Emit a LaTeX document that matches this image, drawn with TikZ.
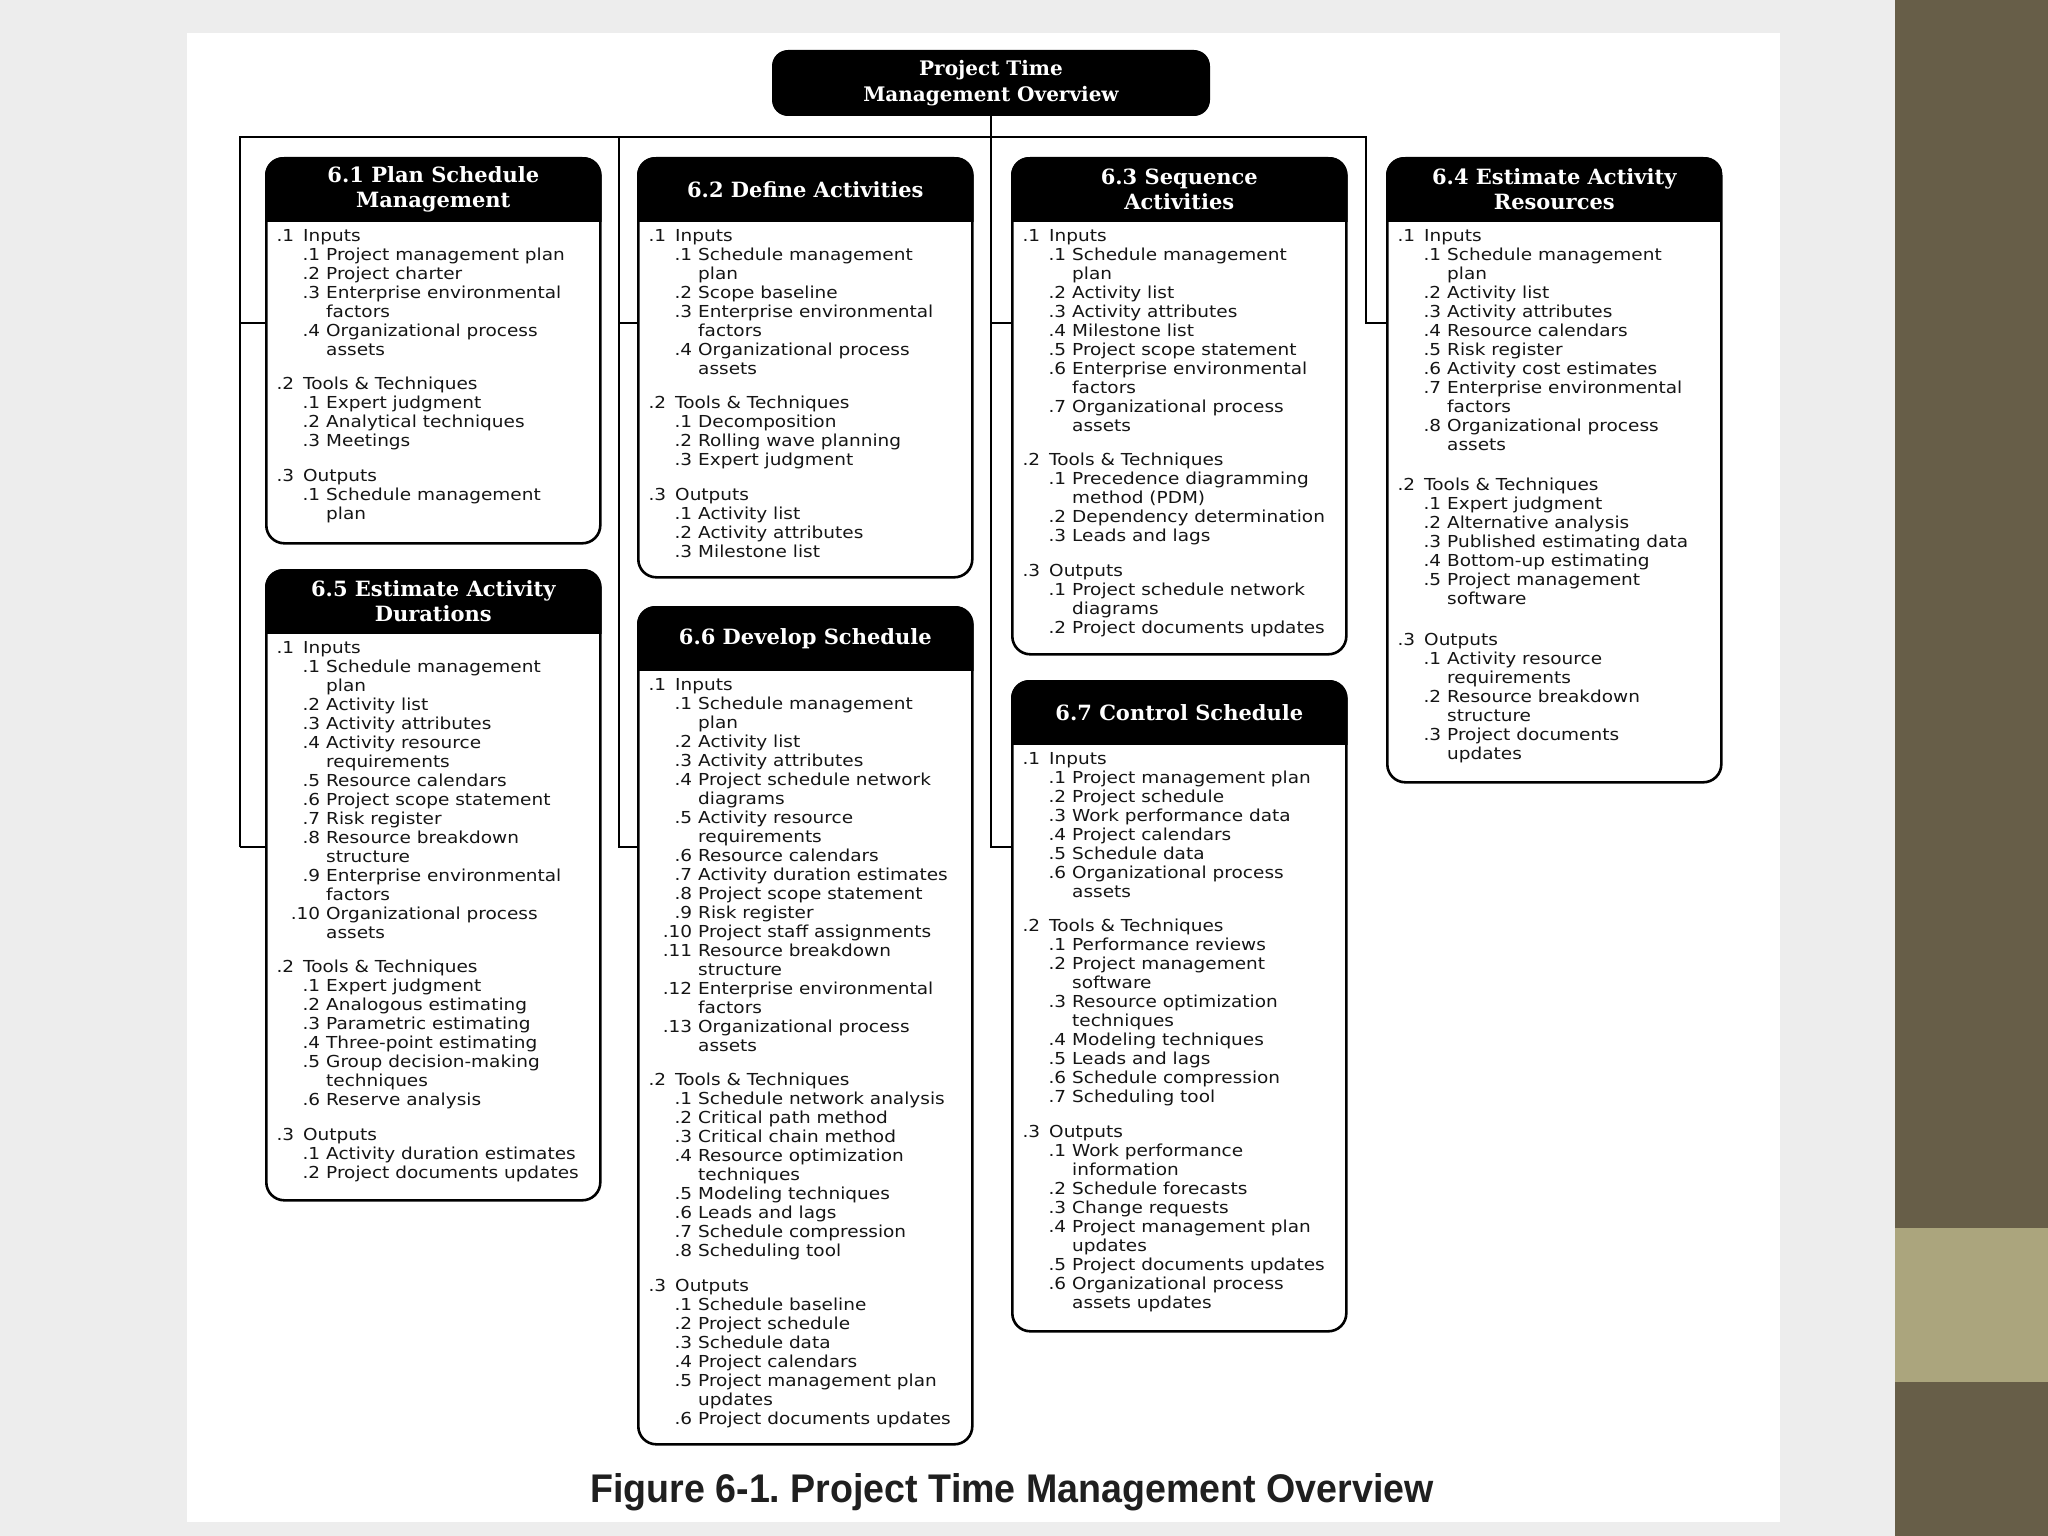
\documentclass[tikz,border=0pt]{standalone}
\usepackage{fontspec}
\usetikzlibrary{calc}
\newfontfamily\bodyfam[FakeStretch=1.12]{DejaVu Sans}
\newfontfamily\slabfam{DejaVu Serif}
\newfontfamily\capfam[FakeStretch=0.94]{Liberation Sans}
\definecolor{pagebg}{HTML}{EDEDED}
\definecolor{bardark}{HTML}{675E48}
\definecolor{barlight}{HTML}{ABA57D}
\definecolor{txt}{HTML}{151515}
\newcommand\ia[2]{\makebox[25pt][r]{#1}\makebox[9pt]{}#2}
\newcommand\ib[2]{\makebox[51pt][r]{#1}\makebox[6pt]{}#2}
\newcommand\ic[1]{\makebox[57pt]{}#1}
\def\grp{15.6pt}
\newcommand\proc[6]{%
  \node[pbox, minimum height=#4pt] (#1) at (#2,#3) {};
  \begin{scope}
    \clip[rounded corners=18pt] (#1.north west) rectangle (#1.south east);
    \fill (#1.north west) rectangle ($(#1.north east)+(0,65)$);
  \end{scope}
  \node[ttl] (#1t) at ($(#1.north)+(0,32.5)$) {#5};
  \node[bodytxt] (#1b) at ($(#1.north west)+(4,72)$) {#6};
}
\begin{document}
\begin{tikzpicture}[x=1pt,y=-1pt,
  pbox/.style={draw, line width=2.6pt, rounded corners=18pt, fill=white,
    minimum width=334pt, inner sep=0pt, anchor=north west},
  conn/.style={line width=2pt, line join=miter},
  ttl/.style={text=white, font={\slabfam\bfseries\fontsize{21}{25}\selectfont},
    align=center, inner sep=0pt},
  bodytxt/.style={font={\bodyfam\fontsize{16.5}{19}\selectfont}, text=txt,
    align=left, anchor=north west, inner sep=0pt},
  topbox/.style={fill=black, draw, line width=2pt, rounded corners=15pt,
    minimum width=436pt, minimum height=64pt, inner sep=0pt, text=white,
    align=center, font={\slabfam\bfseries\fontsize{20}{26}\selectfont}},
  captxt/.style={font={\capfam\bfseries\fontsize{40}{44}\selectfont}, text=black!88, inner sep=0pt}
]
\useasboundingbox (0,0) rectangle (2048,1536);
\fill[pagebg] (0,0) rectangle (2048,1536);
\fill[white] (187,33) rectangle (1780,1522);
\fill[bardark] (1895,0) rectangle (2048,1536);
\fill[barlight] (1895,1228) rectangle (2048,1382);

% top node
\node[topbox] (top) at (991,83) {Project Time\\Management Overview};

% processes
\proc{p1}{265}{157}{385}{6.1 Plan Schedule\\Management}{%
\ia{.1}{Inputs}\\
\ib{.1}{Project management plan}\\
\ib{.2}{Project charter}\\
\ib{.3}{Enterprise environmental}\\
\ic{factors}\\
\ib{.4}{Organizational process}\\
\ic{assets}\\[\grp]
\ia{.2}{Tools \& Techniques}\\
\ib{.1}{Expert judgment}\\
\ib{.2}{Analytical techniques}\\
\ib{.3}{Meetings}\\[\grp]
\ia{.3}{Outputs}\\
\ib{.1}{Schedule management}\\
\ic{plan}}

\proc{p2}{637}{157}{419}{6.2 Define Activities}{%
\ia{.1}{Inputs}\\
\ib{.1}{Schedule management}\\
\ic{plan}\\
\ib{.2}{Scope baseline}\\
\ib{.3}{Enterprise environmental}\\
\ic{factors}\\
\ib{.4}{Organizational process}\\
\ic{assets}\\[\grp]
\ia{.2}{Tools \& Techniques}\\
\ib{.1}{Decomposition}\\
\ib{.2}{Rolling wave planning}\\
\ib{.3}{Expert judgment}\\[\grp]
\ia{.3}{Outputs}\\
\ib{.1}{Activity list}\\
\ib{.2}{Activity attributes}\\
\ib{.3}{Milestone list}}

\proc{p3}{1011}{157}{496}{6.3 Sequence\\Activities}{%
\ia{.1}{Inputs}\\
\ib{.1}{Schedule management}\\
\ic{plan}\\
\ib{.2}{Activity list}\\
\ib{.3}{Activity attributes}\\
\ib{.4}{Milestone list}\\
\ib{.5}{Project scope statement}\\
\ib{.6}{Enterprise environmental}\\
\ic{factors}\\
\ib{.7}{Organizational process}\\
\ic{assets}\\[\grp]
\ia{.2}{Tools \& Techniques}\\
\ib{.1}{Precedence diagramming}\\
\ic{method (PDM)}\\
\ib{.2}{Dependency determination}\\
\ib{.3}{Leads and lags}\\[\grp]
\ia{.3}{Outputs}\\
\ib{.1}{Project schedule network}\\
\ic{diagrams}\\
\ib{.2}{Project documents updates}}

\def\grp{21.5pt}
\proc{p4}{1386}{157}{624}{6.4 Estimate Activity\\Resources}{%
\ia{.1}{Inputs}\\
\ib{.1}{Schedule management}\\
\ic{plan}\\
\ib{.2}{Activity list}\\
\ib{.3}{Activity attributes}\\
\ib{.4}{Resource calendars}\\
\ib{.5}{Risk register}\\
\ib{.6}{Activity cost estimates}\\
\ib{.7}{Enterprise environmental}\\
\ic{factors}\\
\ib{.8}{Organizational process}\\
\ic{assets}\\[\grp]
\ia{.2}{Tools \& Techniques}\\
\ib{.1}{Expert judgment}\\
\ib{.2}{Alternative analysis}\\
\ib{.3}{Published estimating data}\\
\ib{.4}{Bottom-up estimating}\\
\ib{.5}{Project management}\\
\ic{software}\\[\grp]
\ia{.3}{Outputs}\\
\ib{.1}{Activity resource}\\
\ic{requirements}\\
\ib{.2}{Resource breakdown}\\
\ic{structure}\\
\ib{.3}{Project documents}\\
\ic{updates}}
\def\grp{15.6pt}

\proc{p5}{265}{569}{630}{6.5 Estimate Activity\\Durations}{%
\ia{.1}{Inputs}\\
\ib{.1}{Schedule management}\\
\ic{plan}\\
\ib{.2}{Activity list}\\
\ib{.3}{Activity attributes}\\
\ib{.4}{Activity resource}\\
\ic{requirements}\\
\ib{.5}{Resource calendars}\\
\ib{.6}{Project scope statement}\\
\ib{.7}{Risk register}\\
\ib{.8}{Resource breakdown}\\
\ic{structure}\\
\ib{.9}{Enterprise environmental}\\
\ic{factors}\\
\ib{.10}{Organizational process}\\
\ic{assets}\\[\grp]
\ia{.2}{Tools \& Techniques}\\
\ib{.1}{Expert judgment}\\
\ib{.2}{Analogous estimating}\\
\ib{.3}{Parametric estimating}\\
\ib{.4}{Three-point estimating}\\
\ib{.5}{Group decision-making}\\
\ic{techniques}\\
\ib{.6}{Reserve analysis}\\[\grp]
\ia{.3}{Outputs}\\
\ib{.1}{Activity duration estimates}\\
\ib{.2}{Project documents updates}}

\proc{p6}{637}{606}{837}{6.6 Develop Schedule}{%
\ia{.1}{Inputs}\\
\ib{.1}{Schedule management}\\
\ic{plan}\\
\ib{.2}{Activity list}\\
\ib{.3}{Activity attributes}\\
\ib{.4}{Project schedule network}\\
\ic{diagrams}\\
\ib{.5}{Activity resource}\\
\ic{requirements}\\
\ib{.6}{Resource calendars}\\
\ib{.7}{Activity duration estimates}\\
\ib{.8}{Project scope statement}\\
\ib{.9}{Risk register}\\
\ib{.10}{Project staff assignments}\\
\ib{.11}{Resource breakdown}\\
\ic{structure}\\
\ib{.12}{Enterprise environmental}\\
\ic{factors}\\
\ib{.13}{Organizational process}\\
\ic{assets}\\[\grp]
\ia{.2}{Tools \& Techniques}\\
\ib{.1}{Schedule network analysis}\\
\ib{.2}{Critical path method}\\
\ib{.3}{Critical chain method}\\
\ib{.4}{Resource optimization}\\
\ic{techniques}\\
\ib{.5}{Modeling techniques}\\
\ib{.6}{Leads and lags}\\
\ib{.7}{Schedule compression}\\
\ib{.8}{Scheduling tool}\\[\grp]
\ia{.3}{Outputs}\\
\ib{.1}{Schedule baseline}\\
\ib{.2}{Project schedule}\\
\ib{.3}{Schedule data}\\
\ib{.4}{Project calendars}\\
\ib{.5}{Project management plan}\\
\ic{updates}\\
\ib{.6}{Project documents updates}}

\proc{p7}{1011}{680}{650}{6.7 Control Schedule}{%
\ia{.1}{Inputs}\\
\ib{.1}{Project management plan}\\
\ib{.2}{Project schedule}\\
\ib{.3}{Work performance data}\\
\ib{.4}{Project calendars}\\
\ib{.5}{Schedule data}\\
\ib{.6}{Organizational process}\\
\ic{assets}\\[\grp]
\ia{.2}{Tools \& Techniques}\\
\ib{.1}{Performance reviews}\\
\ib{.2}{Project management}\\
\ic{software}\\
\ib{.3}{Resource optimization}\\
\ic{techniques}\\
\ib{.4}{Modeling techniques}\\
\ib{.5}{Leads and lags}\\
\ib{.6}{Schedule compression}\\
\ib{.7}{Scheduling tool}\\[\grp]
\ia{.3}{Outputs}\\
\ib{.1}{Work performance}\\
\ic{information}\\
\ib{.2}{Schedule forecasts}\\
\ib{.3}{Change requests}\\
\ib{.4}{Project management plan}\\
\ic{updates}\\
\ib{.5}{Project documents updates}\\
\ib{.6}{Organizational process}\\
\ic{assets updates}}

% connectors
\coordinate (r1) at (0,323);
\coordinate (r2) at (0,847);
\coordinate (jL) at (240,137);
\coordinate (jA) at (619,137);
\coordinate (jR) at (1366,137);
\draw[conn] (jL |- r2) -- (jL) -- (jR) -- (jR |- r1) -- (p4.west |- r1);
\draw[conn] (jL |- r2) -- (p5.west |- r2);
\draw[conn] (jL |- r1) -- (p1.west |- r1);
\draw[conn] (jA) -- (jA |- r2) -- (p6.west |- r2);
\draw[conn] (jA |- r1) -- (p2.west |- r1);
\draw[conn] (top.south) -- (top.south |- r2) -- (p7.west |- r2);
\draw[conn] (top.south |- r1) -- (p3.west |- r1);

% caption
\node[captxt, anchor=base] (cap) at (1012,1502) {\frenchspacing Figure 6-1. Project Time Management Overview};
\end{tikzpicture}
\end{document}
